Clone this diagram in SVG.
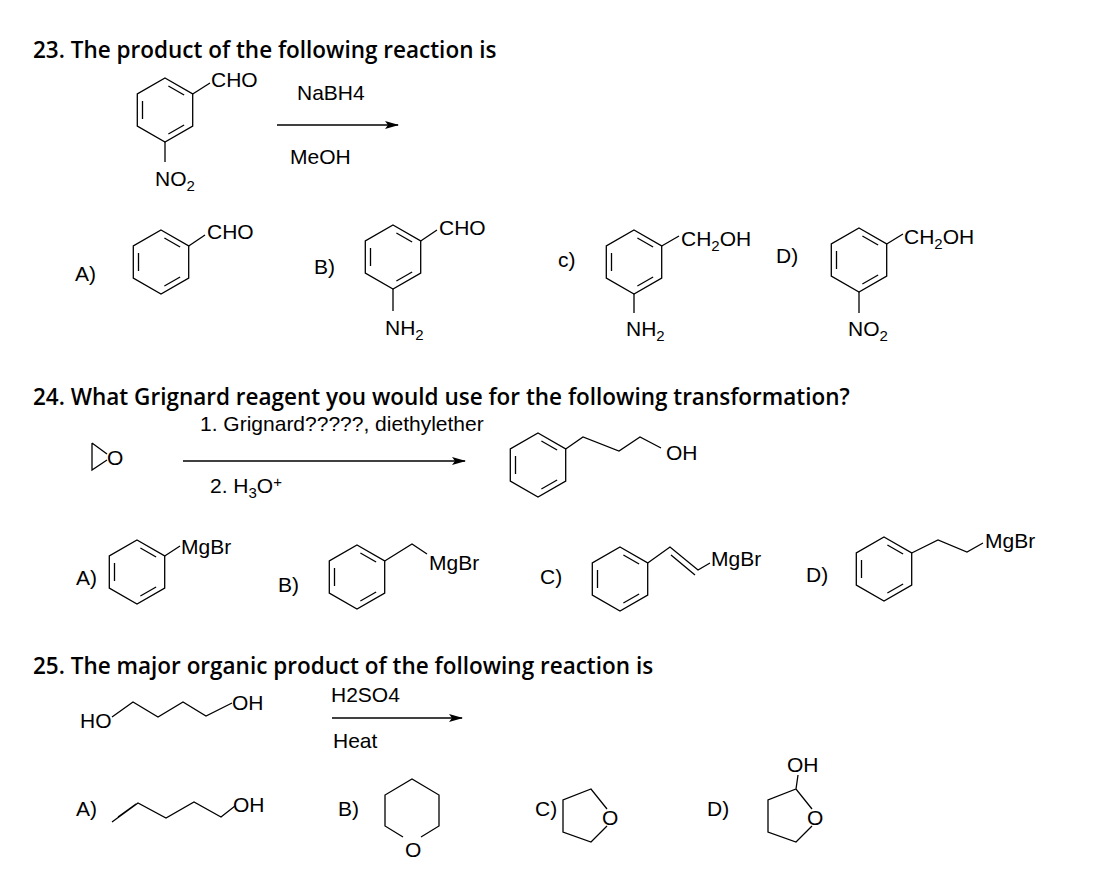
<svg xmlns="http://www.w3.org/2000/svg" xmlns:xlink="http://www.w3.org/1999/xlink" width="1106" height="880" viewBox="0 0 1106 880">
<style>
.t{font-family:"Open Sans","Noto Sans",sans-serif;font-size:22.5px;font-weight:600;fill:#000}
.l{font-family:"Liberation Sans",Arial,sans-serif;font-size:21px;fill:#000}
.b{fill:none;stroke:#000;stroke-width:1.3}
</style>
<defs>
<g id="bz" class="b">
<polygon points="0,-32 27.7,-16 27.7,16 0,32 -27.7,16 -27.7,-16"/>
<line x1="3.4" y1="-24" x2="19.1" y2="-15"/>
<line x1="19.1" y1="15" x2="3.4" y2="24"/>
<line x1="-22.5" y1="9" x2="-22.5" y2="-9"/>
</g>
<marker id="ah" markerWidth="14" markerHeight="8" refX="13" refY="4" orient="auto" markerUnits="userSpaceOnUse"><path d="M0,0 L14,4 L0,8 L3,4 z" fill="#000"/></marker>
</defs>
<rect width="1106" height="880" fill="#fff"/>
<text class="t" x="33" y="58">23. The product of the following reaction is</text>
<text class="t" x="33" y="405">24. What Grignard reagent you would use for the following transformation?</text>
<text class="t" x="33" y="674">25. The major organic product of the following reaction is</text>

<g id="q23-reactant">
<use xlink:href="#bz" x="165" y="110"/>
<path class="b" d="M192.7,94 L210,83"/>
<path class="b" d="M165,142 L165,162"/>
<text class="l" x="211" y="87">CHO</text>
<text class="l" x="155" y="186">NO<tspan font-size="15" dy="5">2</tspan></text>
</g>
<g id="q23-arrow">
<line class="b" x1="277" y1="125" x2="398" y2="125" marker-end="url(#ah)"/>
<text class="l" x="297" y="100">NaBH4</text>
<text class="l" x="290" y="164">MeOH</text>
</g>
<g id="q23-A">
<text class="l" x="75" y="281">A)</text>
<use xlink:href="#bz" x="161" y="262"/>
<path class="b" d="M188.7,246 L205,235"/>
<text class="l" x="207" y="239">CHO</text>
</g>
<g id="q23-B">
<text class="l" x="314" y="274">B)</text>
<use xlink:href="#bz" x="393" y="257"/>
<path class="b" d="M420.7,241 L437,230 M393,289 L393,311"/>
<text class="l" x="439" y="235">CHO</text>
<text class="l" x="385" y="335">NH<tspan font-size="15" dy="5">2</tspan></text>
</g>
<g id="q23-c">
<text class="l" x="558" y="267">c)</text>
<use xlink:href="#bz" x="634" y="262"/>
<path class="b" d="M661.7,246 L679,236 M634,294 L634,313"/>
<text class="l" x="681" y="246">CH<tspan font-size="15" dy="5">2</tspan><tspan dy="-5">OH</tspan></text>
<text class="l" x="626" y="336">NH<tspan font-size="15" dy="5">2</tspan></text>
</g>
<g id="q23-D">
<text class="l" x="776" y="263">D)</text>
<use xlink:href="#bz" x="859" y="260"/>
<path class="b" d="M886.7,244 L903,234 M859,292 L859,313"/>
<text class="l" x="904" y="244">CH<tspan font-size="15" dy="5">2</tspan><tspan dy="-5">OH</tspan></text>
<text class="l" x="848" y="336">NO<tspan font-size="15" dy="5">2</tspan></text>
</g>

<g id="q24-epoxide">
<path class="b" d="M92,443 L92,470 L107,460 M92,443 L107,454"/>
<text class="l" x="107" y="465">O</text>
</g>
<g id="q24-arrow">
<line class="b" x1="183" y1="461" x2="465" y2="461" marker-end="url(#ah)"/>
<text class="l" x="200" y="431">1. Grignard?????, diethylether</text>
<text class="l" x="210" y="493">2. H<tspan font-size="15" dy="5">3</tspan><tspan dy="-5">O</tspan><tspan font-size="15" dy="-6">+</tspan></text>
</g>
<g id="q24-product">
<use xlink:href="#bz" x="538" y="465"/>
<path class="b" d="M565.7,449 L583,437 L619,451 L640,437 L661,448"/>
<text class="l" x="666" y="460">OH</text>
</g>
<g id="q24-A">
<text class="l" x="76" y="585">A)</text>
<use xlink:href="#bz" x="137" y="572"/>
<path class="b" d="M164.7,556 L180,546"/>
<text class="l" x="181" y="554">MgBr</text>
</g>
<g id="q24-B">
<text class="l" x="278" y="592">B)</text>
<use xlink:href="#bz" x="357" y="577"/>
<path class="b" d="M384.7,561 L412,544 L427,554"/>
<text class="l" x="429" y="570">MgBr</text>
</g>
<g id="q24-C">
<text class="l" x="540" y="584">C)</text>
<use xlink:href="#bz" x="620" y="579"/>
<path class="b" d="M647.7,563 L670,547 L698,570 L710,563 M671,555 L695,575"/>
<text class="l" x="711" y="566">MgBr</text>
</g>
<g id="q24-D">
<text class="l" x="806" y="582">D)</text>
<use xlink:href="#bz" x="884" y="569"/>
<path class="b" d="M911.7,553 L938,540 L967,552 L983,543"/>
<text class="l" x="985" y="548">MgBr</text>
</g>

<g id="q25-reactant">
<text class="l" x="80" y="728">HO</text>
<path class="b" d="M112,717 L133,702 L158,717 L183,702 L206,716 L232,703"/>
<text class="l" x="232" y="710">OH</text>
</g>
<g id="q25-arrow">
<line class="b" x1="332" y1="718" x2="462" y2="718" marker-end="url(#ah)"/>
<text class="l" x="331" y="702">H2SO4</text>
<text class="l" x="333" y="748">Heat</text>
</g>
<g id="q25-A">
<text class="l" x="76" y="816">A)</text>
<path class="b" d="M112,822 L138,803 L166,818 L194,802 L221,817 L235,806 M118,817 L136,804"/>
<text class="l" x="233" y="812">OH</text>
</g>
<g id="q25-B">
<text class="l" x="338" y="816">B)</text>
<path class="b" d="M403,837 L385,826 L385,795 L412,779 L439,795 L439,826 L421,837"/>
<text class="l" x="405" y="857">O</text>
</g>
<g id="q25-C">
<text class="l" x="535" y="816">C)</text>
<path class="b" d="M607,809 L591,789 L563,800 L563,832 L591,842 L607,826"/>
<text class="l" x="602" y="825">O</text>
</g>
<g id="q25-D">
<text class="l" x="707" y="816">D)</text>
<path class="b" d="M812,809 L796,789 L768,800 L768,832 L796,842 L812,826 M796,789 L798,775"/>
<text class="l" x="807" y="825">O</text>
<text class="l" x="787" y="772">OH</text>
</g>
</svg>
